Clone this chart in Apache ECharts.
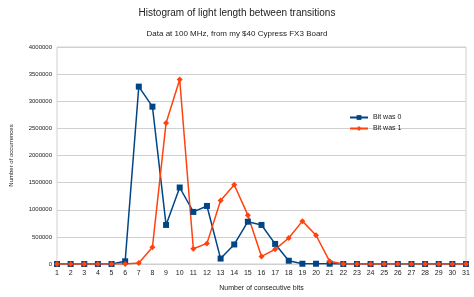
<!DOCTYPE html>
<html>
<head>
<meta charset="utf-8">
<script src="https://cdn.jsdelivr.net/npm/echarts@6/dist/echarts.min.js"></script>
<style>
html, body { margin: 0; padding: 0; background: #fff; }
#chart { width: 474px; height: 297px; }
</style>
</head>
<body>
<div id="chart"></div>
<script>
var bits = [];
for (var i = 1; i <= 31; i++) bits.push(String(i));

var bitWas0 = [0, 0, 0, 0, 0, 50000, 3270000, 2900000, 720000, 1410000, 960000, 1070000, 100000, 360000, 780000, 720000, 370000, 60000, 5000, 5000, 5000, 0, 0, 0, 0, 0, 0, 0, 0, 0, 0];
var bitWas1 = [0, 0, 0, 0, 0, 0, 20000, 310000, 2600000, 3400000, 280000, 380000, 1170000, 1460000, 900000, 140000, 270000, 480000, 790000, 530000, 50000, 0, 0, 0, 0, 0, 0, 0, 0, 0, 0];

var chart = echarts.init(document.getElementById('chart'));
var font = 'Liberation Sans';

chart.setOption({
	animation: false,
	backgroundColor: '#fff',
	title: [
		{ text: 'Histogram of light length between transitions', left: 'center', top: 3,
			textStyle: { fontFamily: font, fontSize: 10, fontWeight: 'normal', color: '#222' } },
		{ text: 'Data at 100 MHz, from my $40 Cypress FX3 Board', left: 'center', top: 25,
			textStyle: { fontFamily: font, fontSize: 8, fontWeight: 'normal', color: '#222' } }
	],
	legend: {
		orient: 'vertical', left: 344, top: 109, itemGap: 4,
		itemWidth: 18, itemHeight: 6,
		textStyle: { fontFamily: font, fontSize: 7, color: '#222' },
		data: ['Bit was 0', 'Bit was 1']
	},
	grid: { left: 53, right: 8, top: 47, bottom: 31, show: true, borderColor: '#d0d0d0', borderWidth: 1 },
	xAxis: {
		type: 'category', data: bits, boundaryGap: false,
		name: 'Number of consecutive bits', nameLocation: 'middle', nameGap: 21,
		nameTextStyle: { fontFamily: font, fontSize: 7, color: '#222' },
		axisLine: { lineStyle: { color: '#d0d0d0' } },
		axisTick: { show: false },
		axisLabel: { fontFamily: font, fontSize: 7, color: '#222', margin: 6, interval: 0 },
		splitLine: { show: false }
	},
	yAxis: {
		type: 'value', min: 0, max: 4000000, interval: 500000,
		name: 'Number of occurrences', nameLocation: 'middle', nameGap: 43, nameRotate: 90,
		nameTextStyle: { fontFamily: font, fontSize: 6, color: '#222' },
		axisLine: { show: false },
		axisTick: { show: false },
		axisLabel: { fontFamily: font, fontSize: 6, color: '#222', margin: 5,
			formatter: function (v) { return String(v); } },
		splitLine: { lineStyle: { color: '#d0d0d0' } }
	},
	series: [
		{
			name: 'Bit was 0', type: 'line', data: bitWas0,
			symbol: 'rect', symbolSize: 6,
			lineStyle: { color: '#004586', width: 1.5 },
			itemStyle: { color: '#004586' }
		},
		{
			name: 'Bit was 1', type: 'line', data: bitWas1,
			symbol: 'diamond', symbolSize: 6,
			lineStyle: { color: '#ff420e', width: 1.5 },
			itemStyle: { color: '#ff420e' }
		}
	]
});
</script>
</body>
</html>
